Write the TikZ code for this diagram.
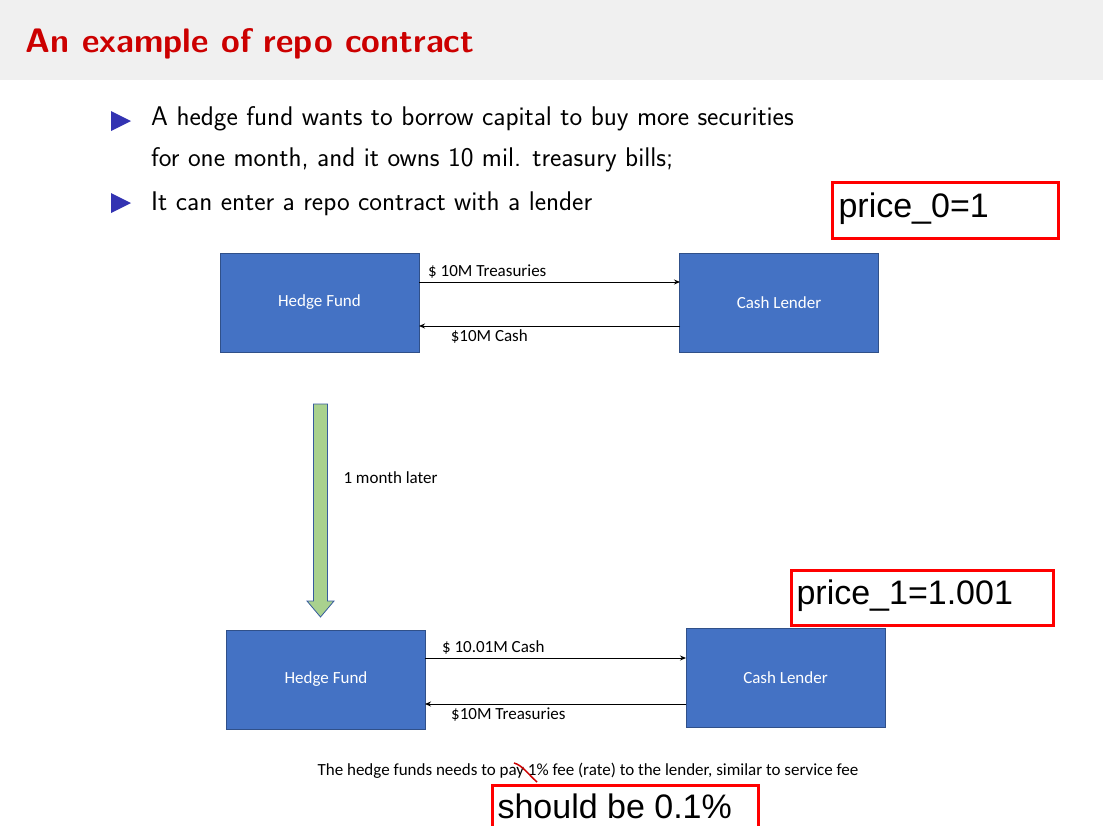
\documentclass[tikz,border=0pt]{standalone}
\usepackage{fontspec}
\newfontfamily\calfont{Carlito}
\newfontfamily\arifont{Liberation Sans}
\usetikzlibrary{arrows.meta}
\definecolor{boxblue}{HTML}{4472C4}
\definecolor{titlered}{RGB}{204,0,0}
\definecolor{bulletblue}{RGB}{51,51,178}
\definecolor{arrowgreen}{RGB}{169,209,142}
\begin{document}
\begin{tikzpicture}[x=1pt,y=-1pt,
  party/.style={draw=boxblue!70!black,fill=boxblue,text=white,minimum width=199pt,minimum height=99pt,font=\calfont\fontsize{17}{20}\selectfont},
  flow/.style={-{Stealth[length=6pt,width=5pt]},line width=0.9pt},
  lab/.style={font=\calfont\fontsize{17}{20}\selectfont},
  redbox/.style={draw=red,line width=2.5pt,inner sep=0pt,anchor=north west},
  redtext/.style={font=\arifont\fontsize{34}{36}\selectfont,anchor=west}]
\useasboundingbox (0,0) rectangle (1103,825);
\fill[gray!12] (0,0) rectangle (1103,80);
\node[anchor=west,text=titlered,font=\sffamily\bfseries\fontsize{34}{40}\selectfont] (title) at (22,44) {An example of repo contract};
\fill[bulletblue] (111,111) -- (131,121) -- (111,131) -- cycle;
\fill[bulletblue] (111,193) -- (131,203) -- (111,213) -- cycle;
\begin{scope}[font=\sffamily\fontsize{27}{41}\selectfont]
\node[anchor=north west,align=left,inner sep=0pt] (t1) at (151,106) {A hedge fund wants to borrow capital to buy more securities\\for one month, and it owns 10 mil. treasury bills;};
\node[anchor=west,inner sep=0pt] (t2) at (151,204) {It can enter a repo contract with a lender};
\end{scope}
\node[redbox,minimum width=226pt,minimum height=56pt] (p0) at (831,181) {};
\node[redtext] (p0t) at (835,209) {price\_0=1};
\node[party] (hf1) at (319.5,302.5) {Hedge Fund};
\node[party] (cl1) at (779,302.5) {Cash Lender};
\coordinate (a1s) at (419,282); \coordinate (a1e) at (680,282);
\coordinate (a2s) at (680,326); \coordinate (a2e) at (419,326);
\draw[flow] (a1s) -- (a1e) node[lab,above,pos=0.3,xshift=-10pt] {\$ 10M Treasuries};
\draw[flow] (a2s) -- (a2e) node[lab,below,pos=0.7,xshift=-8pt] {\$10M Cash};
\draw[draw=boxblue!80!black,fill=arrowgreen,line width=0.8pt]
  (313.5,404) -- (327.5,404) -- (327.5,601) -- (334,601) -- (320.5,617) -- (307,601) -- (313.5,601) -- cycle;
\node[lab,anchor=west] (later) at (340,478) {1 month later};
\node[redbox,minimum width=262pt,minimum height=55pt] (p1) at (790,569) {};
\node[redtext] (p1t) at (793,596) {price\_1=1.001};
\node[party] (hf2) at (326,679.5) {Hedge Fund};
\node[party] (cl2) at (785.5,678) {Cash Lender};
\coordinate (b1s) at (425,658); \coordinate (b1e) at (686,658);
\coordinate (b2s) at (686,704); \coordinate (b2e) at (425,704);
\draw[flow] (b1s) -- (b1e) node[lab,above,pos=0.3,xshift=-10pt] {\$ 10.01M Cash};
\draw[flow] (b2s) -- (b2e) node[lab,below,pos=0.65,xshift=-8pt] {\$10M Treasuries};
\node[font=\calfont\fontsize{17}{20}\selectfont] (note) at (588,771) {The hedge funds needs to pay 1\% fee (rate) to the lender, similar to service fee};
\draw[red!80!black,line width=1.5pt] (514,763) .. controls (522,765) and (528,774) .. (537,782);
\node[redbox,minimum width=266pt,minimum height=42pt] (sb) at (491,784) {};
\node[redtext] (sbt) at (494,806) {should be 0.1\%};
\end{tikzpicture}
\end{document}
